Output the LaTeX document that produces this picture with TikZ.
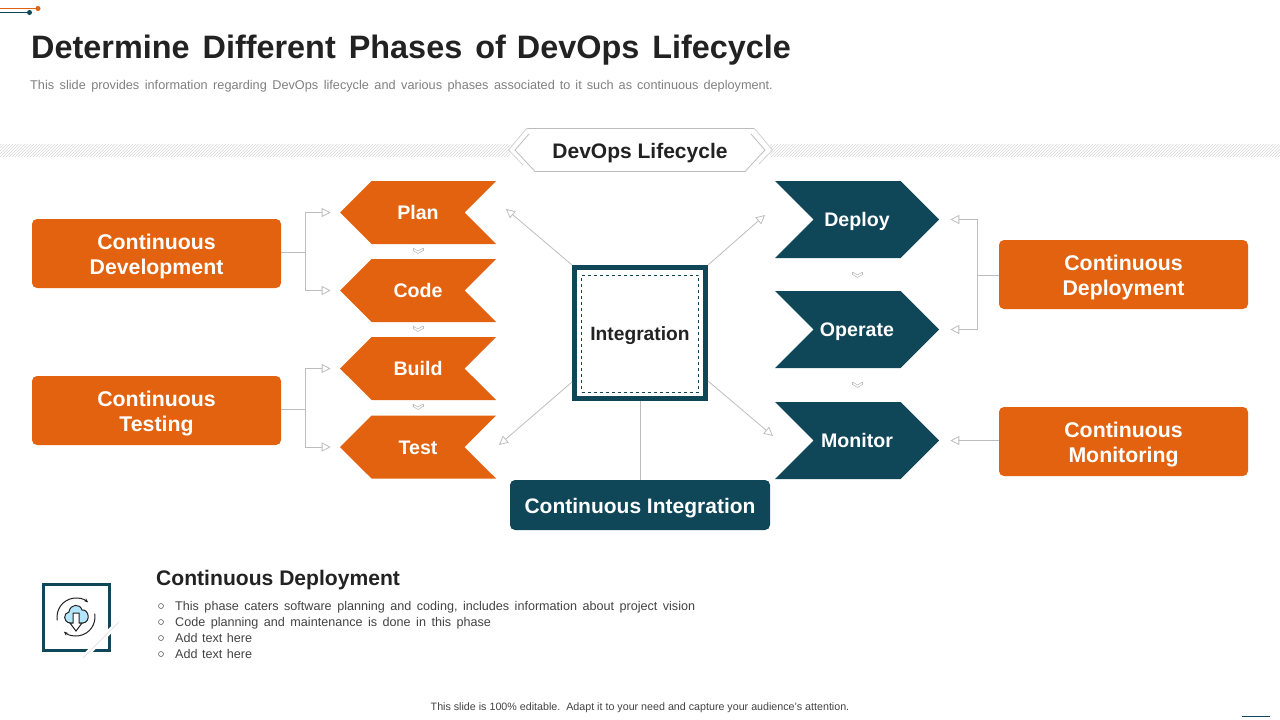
\documentclass[tikz,border=0pt]{standalone}
\usepackage{fontspec}
\setmainfont{Liberation Sans}
\usetikzlibrary{shapes.symbols,arrows.meta,calc}

\definecolor{rust}{HTML}{E2620F}
\definecolor{petrol}{HTML}{0F4658}
\definecolor{ink}{HTML}{222222}
\definecolor{wire}{HTML}{BDBDBD}

\begin{document}
\begin{tikzpicture}[x=1pt,y=-1pt,>={Triangle[open,length=9pt,width=9pt]},
    phase/.style={rounded corners=5pt,fill=rust,text=white,font=\bfseries\fontsize{21.3}{25}\selectfont,
      minimum width=249pt,minimum height=69pt,inner sep=0pt,align=center,text height=42pt,text depth=0pt},
    stage/.style={signal,signal pointer angle=90,inner sep=0pt,text=white,text height=14pt,text depth=0pt,
      font=\bfseries\fontsize{19.6}{24}\selectfont},
    planstage/.style={stage,signal from=east,signal to=west,fill=rust,minimum width=156pt,minimum height=63pt},
    opstage/.style={stage,signal from=west,signal to=east,fill=petrol,minimum width=164pt,minimum height=77pt},
    link/.style={wire,line width=0.8pt},
    arrowlink/.style={link,->},
    hatch/.style={wire!60,line width=0.6pt},
    bullet/.style={font=\fontsize{12.6}{14}\selectfont,text=ink!85,anchor=base west,inner sep=0pt}]
  \useasboundingbox (0,0) rectangle (1280,720);

  % header
  \draw[rust,line width=1pt] (0,8.5) -- coordinate[pos=1] (dotA) (38,8.5);
  \fill[rust] (dotA) circle (2.5);
  \draw[petrol,line width=1pt] (0,12.5) -- coordinate[pos=1] (dotB) (29.5,12.5);
  \fill[petrol] (dotB) circle (2.5);
  \node (title) [anchor=base west,inner sep=0pt,text=ink,font=\bfseries\fontsize{32.4}{38}\selectfont] at (31,58)
    {Determine\hspace{4pt} Different\hspace{4pt} Phases\hspace{4pt} of\hspace{2pt} DevOps\hspace{4pt} Lifecycle};
  \node (subtitle) [anchor=base west,inner sep=0pt,text=black!50,font=\fontsize{12.7}{14}\selectfont] at (30,89)
    {This\hspace{2pt} slide\hspace{2pt} provides\hspace{2pt} information\hspace{2pt} regarding\hspace{2pt} DevOps\hspace{2pt} lifecycle\hspace{2pt} and\hspace{2pt} various\hspace{2pt} phases\hspace{2pt} associated\hspace{1.5pt} to\hspace{1.5pt} it\hspace{1.5pt} such\hspace{1.5pt} as\hspace{1.5pt} continuous\hspace{1.5pt} deployment.};

  % band
  \begin{scope}
    \clip (0,144) rectangle (510,157) (770,144) rectangle (1280,157);
    \foreach \x in {-12,-9,...,1280} \draw[hatch] (\x,157) -- (\x+13,144);
  \end{scope}

  % banner
  \fill[white] (508.5,150) -- (527,128) -- (754,128) -- (772,150) -- (745,172) -- (535,172) -- cycle;
  \draw[link] (529,134) -- (515,150) -- (535,171.5) -- (745,171.5) -- (765,150) -- (751,134);
  \draw[link] (527,128) -- (754,128);
  \draw[link,wire!70] (527,128) -- (508.5,150) -- (523,165);
  \draw[link,wire!70] (754,128) -- (772.5,150) -- (759,164);
  \node (banner) [text=ink,text height=15pt,text depth=0pt,font=\bfseries\fontsize{21}{26}\selectfont] at (640,150.5) {DevOps Lifecycle};

  % left stages
  \node (plan) [planstage] at (418,212.5) {Plan};
  \node (code) [planstage] at (418,290.5) {Code};
  \node (build) [planstage] at (418,368.5) {Build};
  \node (test) [planstage] at (418,447) {Test};

  % right stages
  \node (deploy) [opstage] at (857,219.5) {Deploy};
  \node (operate) [opstage] at (857,329.5) {Operate};
  \node (monitor) [opstage] at (857,440.5) {Monitor};

  % phases
  \node (contdev) [phase] at (156.5,253.5) {Continuous\\Development};
  \node (conttest) [phase] at (156.5,410.5) {Continuous\\Testing};
  \node (contdep) [phase] at (1123.5,274.5) {Continuous\\Deployment};
  \node (contmon) [phase] at (1123.5,441.5) {Continuous\\Monitoring};

  % centre
  \node (integ) [draw=petrol,line width=5pt,minimum size=131pt,inner sep=0pt,text=ink,text height=14pt,text depth=0pt,
    font=\bfseries\fontsize{19.2}{24}\selectfont] at (640,333) {Integration};
  \node (integin) [draw=petrol,dashed,line width=0.9pt,minimum size=117pt] at (640,333.5) {};
  \node (contint) [rounded corners=5pt,fill=petrol,text=white,minimum width=260pt,minimum height=50pt,inner sep=0pt,
    text height=16pt,text depth=0pt,font=\bfseries\fontsize{21}{26}\selectfont] at (640,505) {Continuous Integration};

  % forks
  \coordinate (forkA) at (305,252);
  \coordinate (forkB) at (305,409);
  \coordinate (forkC) at (977,275);
  \draw[link] (contdev.east|-forkA) -- (forkA);
  \draw[arrowlink] (forkA) |- ([xshift=-9pt]plan.west);
  \draw[arrowlink] (forkA) |- ([xshift=-9pt]code.west);
  \draw[link] (conttest.east|-forkB) -- (forkB);
  \draw[arrowlink] (forkB) |- ([xshift=-9pt]build.west);
  \draw[arrowlink] (forkB) |- ([xshift=-9pt]test.west);
  \draw[link] (contdep.west|-forkC) -- (forkC);
  \draw[arrowlink] (forkC) |- ([xshift=11pt]deploy.east);
  \draw[arrowlink] (forkC) |- ([xshift=11pt]operate.east);
  \draw[arrowlink] (contmon.west|-monitor) -- ([xshift=11pt]monitor.east);

  % spokes
  \coordinate (tipA) at (506,209);
  \coordinate (tipB) at (765,215);
  \coordinate (tipC) at (499,445);
  \coordinate (tipD) at (773,436);
  \draw[arrowlink] (572,265) -- (tipA);
  \draw[arrowlink] (708,265) -- (tipB);
  \draw[arrowlink] ([yshift=19pt]integ.south west) -- (tipC);
  \draw[arrowlink] ([yshift=20pt]integ.south east) -- (tipD);
  \draw[link] (integ.south) -- (contint.north);

  % small marks
  \foreach \x/\y in {418/251,418/329,418/407,857.5/275,857.5/385} {
    \draw[wire,line width=0.6pt] (\x-5,\y-3) -- (\x,\y) -- (\x+5,\y-3);
    \draw[wire,line width=0.6pt] (\x-5,\y-0.5) -- (\x,\y+2.5) -- (\x+5,\y-0.5);
    \draw[wire,line width=0.6pt] (\x-5,\y-3) -- (\x-5,\y-0.5);
    \draw[wire,line width=0.6pt] (\x+5,\y-3) -- (\x+5,\y-0.5);
  }

  % icon
  \node (iconbox) [draw=petrol,line width=2.8pt,minimum size=66pt,inner sep=0pt] at (76.5,617.5) {};
  \draw[white,line width=5pt] (84,657) -- (118,623);
  \draw[black!10,line width=0.8pt] (83,658) -- (119,622);
  \draw[ink,line width=1pt,fill=cyan!30!white] (70,623) .. controls (63,622) and (63,613) .. (69,612)
    .. controls (70,604) and (80,603) .. (82,610) .. controls (89,609) and (91,622) .. (83,623) -- cycle;
  \draw[ink,line width=1pt,fill=white] (73,613) -- (73,623) -- (70,623) -- (76,631) -- (82,623) -- (79,623) -- (79,613) -- cycle;
  \draw[ink,line width=1pt,-{Stealth[length=4.5pt]}] (76,617) ++(170:19) arc (170:310:19);
  \draw[ink,line width=1pt,-{Stealth[length=4.5pt]}] (76,617) ++(-10:19) arc (-10:130:19);

  % notes
  \node (notehead) [anchor=base west,inner sep=0pt,text=ink,font=\bfseries\fontsize{21.1}{24}\selectfont] at (156,585) {Continuous Deployment};
  \foreach \y/\t [count=\i] in {610/{This\hspace{2pt} phase\hspace{2pt} caters\hspace{2pt} software\hspace{2pt} planning\hspace{2pt} and\hspace{2pt} coding,\hspace{2pt} includes\hspace{2pt} information\hspace{2pt} about\hspace{2pt} project\hspace{2pt} vision},
      626/{Code\hspace{2pt} planning\hspace{2pt} and\hspace{2pt} maintenance\hspace{2pt} is\hspace{2pt} done\hspace{2pt} in\hspace{2pt} this\hspace{2pt} phase},
      642/{Add\hspace{1pt} text\hspace{1pt} here},658/{Add\hspace{1pt} text\hspace{1pt} here}} {
    \draw[ink!80,line width=0.5pt] (161,\y-4) circle (2.5);
    \node (note\i) [bullet] at (175,\y) {\t};
  }

  % footer
  \node (footer) [inner sep=0pt,text=ink!85,font=\fontsize{10.7}{12}\selectfont] at (640,708) {This slide is 100\% editable.\hspace{2pt} Adapt it to your need and capture your audience's attention.};
  \draw[petrol,line width=1pt] (1242,716.5) -- (1270,716.5);
\end{tikzpicture}
\end{document}
